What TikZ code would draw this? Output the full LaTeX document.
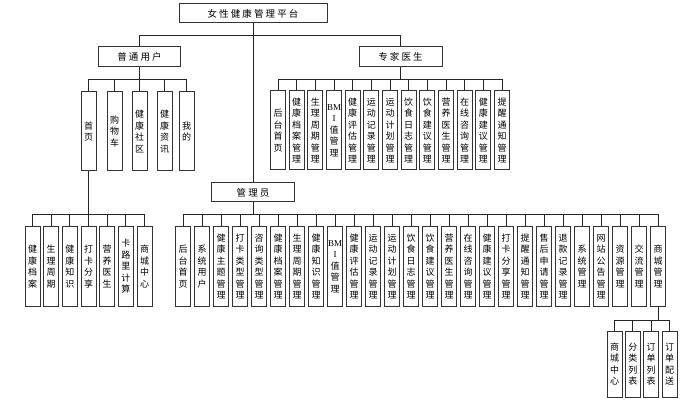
\documentclass[tikz,border=0pt]{standalone}
\usepackage{fontspec}
\setmainfont{Noto Sans CJK SC}
\newfontfamily\latf{Liberation Serif}
\begin{document}
\begin{tikzpicture}[x=1pt,y=-1pt,
  hbox/.style={draw=black!80,line width=1pt,fill=white,inner sep=0pt,font=\fontsize{9.5}{11}\selectfont},
  vbox/.style={draw=black!80,line width=1pt,fill=white,inner sep=0pt,minimum width=15pt,minimum height=79pt,align=center,font=\fontsize{9}{11.5}\selectfont},
  sbox/.style={vbox,minimum height=66pt},
  conn/.style={draw=black!85,line width=0.8pt}]
\useasboundingbox (0,0) rectangle (684,411);
% top level
\node[hbox,minimum width=148pt,minimum height=19pt] (root) at (253,13.5) {女 性 健 康 管 理 平 台};
\node[hbox,minimum width=82pt,minimum height=20pt] (user) at (139.5,57) {普 通 用 户};
\node[hbox,minimum width=83pt,minimum height=20pt] (expert) at (400.5,57) {专 家 医 生};
\node[hbox,minimum width=83pt,minimum height=19pt] (admin) at (253,192.5) {管 理 员};
\draw[conn] (root.south) -- ++(0,12) -| (user.north);
\draw[conn] (root.south) -- ++(0,12) -| (expert.north);
\draw[conn] (root.south) -- (admin.north);
% user children
\node[vbox] (u0) at (88.5,131.5) {首\\页};
\node[vbox] (u1) at (114.5,131.5) {购\\物\\车};
\node[vbox] (u2) at (139.5,131.5) {健\\康\\社\\区};
\node[vbox] (u3) at (164.5,131.5) {健\\康\\资\\讯};
\node[vbox] (u4) at (186.5,131.5) {我\\的};
\foreach \c in {u0,u1,u2,u3,u4} \draw[conn] (user.south) -- ++(0,12) -| (\c.north);
% home children
\node[vbox] (h0) at (32.5,266.5) {健\\康\\档\\案};
\node[vbox] (h1) at (51.17,266.5) {生\\理\\周\\期};
\node[vbox] (h2) at (69.83,266.5) {健\\康\\知\\识};
\node[vbox] (h3) at (88.5,266.5) {打\\卡\\分\\享};
\node[vbox] (h4) at (107.17,266.5) {营\\养\\医\\生};
\node[vbox] (h5) at (125.83,266.5) {卡\\路\\里\\计\\算};
\node[vbox] (h6) at (144.5,266.5) {商\\城\\中\\心};
\foreach \c in {h0,h1,h2,h3,h4,h5,h6} \draw[conn] (u0.south) -- ++(0,43) -| (\c.north);
% expert children
\node[vbox] (e0) at (278,130.5) {后\\台\\首\\页};
\node[vbox] (e1) at (296.67,130.5) {健\\康\\档\\案\\管\\理};
\node[vbox] (e2) at (315.33,130.5) {生\\理\\周\\期\\管\\理};
\node[vbox] (e3) at (334,130.5) {{\latf BM}\\{\latf I}\\值\\管\\理};
\node[vbox] (e4) at (352.67,130.5) {健\\康\\评\\估\\管\\理};
\node[vbox] (e5) at (371.33,130.5) {运\\动\\记\\录\\管\\理};
\node[vbox] (e6) at (390,130.5) {运\\动\\计\\划\\管\\理};
\node[vbox] (e7) at (408.67,130.5) {饮\\食\\日\\志\\管\\理};
\node[vbox] (e8) at (427.33,130.5) {饮\\食\\建\\议\\管\\理};
\node[vbox] (e9) at (446,130.5) {营\\养\\医\\生\\管\\理};
\node[vbox] (e10) at (464.67,130.5) {在\\线\\咨\\询\\管\\理};
\node[vbox] (e11) at (483.33,130.5) {健\\康\\建\\议\\管\\理};
\node[vbox] (e12) at (502,130.5) {提\\醒\\通\\知\\管\\理};
\foreach \c in {e0,e1,e2,e3,e4,e5,e6,e7,e8,e9,e10,e11,e12} \draw[conn] (expert.south) -- ++(0,12) -| (\c.north);
% admin children
\node[vbox] (a0) at (183,266.5) {后\\台\\首\\页};
\node[vbox] (a1) at (202,266.5) {系\\统\\用\\户};
\node[vbox] (a2) at (221,266.5) {健\\康\\主\\题\\管\\理};
\node[vbox] (a3) at (240,266.5) {打\\卡\\类\\型\\管\\理};
\node[vbox] (a4) at (259,266.5) {咨\\询\\类\\型\\管\\理};
\node[vbox] (a5) at (278,266.5) {健\\康\\档\\案\\管\\理};
\node[vbox] (a6) at (297,266.5) {生\\理\\周\\期\\管\\理};
\node[vbox] (a7) at (316,266.5) {健\\康\\知\\识\\管\\理};
\node[vbox] (a8) at (335,266.5) {{\latf BM}\\{\latf I}\\值\\管\\理};
\node[vbox] (a9) at (354,266.5) {健\\康\\评\\估\\管\\理};
\node[vbox] (a10) at (373,266.5) {运\\动\\记\\录\\管\\理};
\node[vbox] (a11) at (392,266.5) {运\\动\\计\\划\\管\\理};
\node[vbox] (a12) at (411,266.5) {饮\\食\\日\\志\\管\\理};
\node[vbox] (a13) at (430,266.5) {饮\\食\\建\\议\\管\\理};
\node[vbox] (a14) at (449,266.5) {营\\养\\医\\生\\管\\理};
\node[vbox] (a15) at (468,266.5) {在\\线\\咨\\询\\管\\理};
\node[vbox] (a16) at (487,266.5) {健\\康\\建\\议\\管\\理};
\node[vbox] (a17) at (506,266.5) {打\\卡\\分\\享\\管\\理};
\node[vbox] (a18) at (525,266.5) {提\\醒\\通\\知\\管\\理};
\node[vbox] (a19) at (544,266.5) {售\\后\\申\\请\\管\\理};
\node[vbox] (a20) at (563,266.5) {退\\款\\记\\录\\管\\理};
\node[vbox] (a21) at (582,266.5) {系\\统\\管\\理};
\node[vbox] (a22) at (601,266.5) {网\\站\\公\\告\\管\\理};
\node[vbox] (a23) at (620,266.5) {资\\源\\管\\理};
\node[vbox] (a24) at (639,266.5) {交\\流\\管\\理};
\node[vbox] (a25) at (658,266.5) {商\\城\\管\\理};
\foreach \c in {a0,a1,a2,a3,a4,a5,a6,a7,a8,a9,a10,a11,a12,a13,a14,a15,a16,a17,a18,a19,a20,a21,a22,a23,a24,a25} \draw[conn] (admin.south) -- ++(0,12) -| (\c.north);
% shop children
\node[sbox] (s0) at (614.5,364) {商\\城\\中\\心};
\node[sbox] (s1) at (632.8,364) {分\\类\\列\\表};
\node[sbox] (s2) at (651.2,364) {订\\单\\列\\表};
\node[sbox] (s3) at (669.5,364) {订\\单\\配\\送};
\foreach \c in {s0,s1,s2,s3} \draw[conn] (a25.south) -- ++(0,14) -| (\c.north);
\end{tikzpicture}
\end{document}
